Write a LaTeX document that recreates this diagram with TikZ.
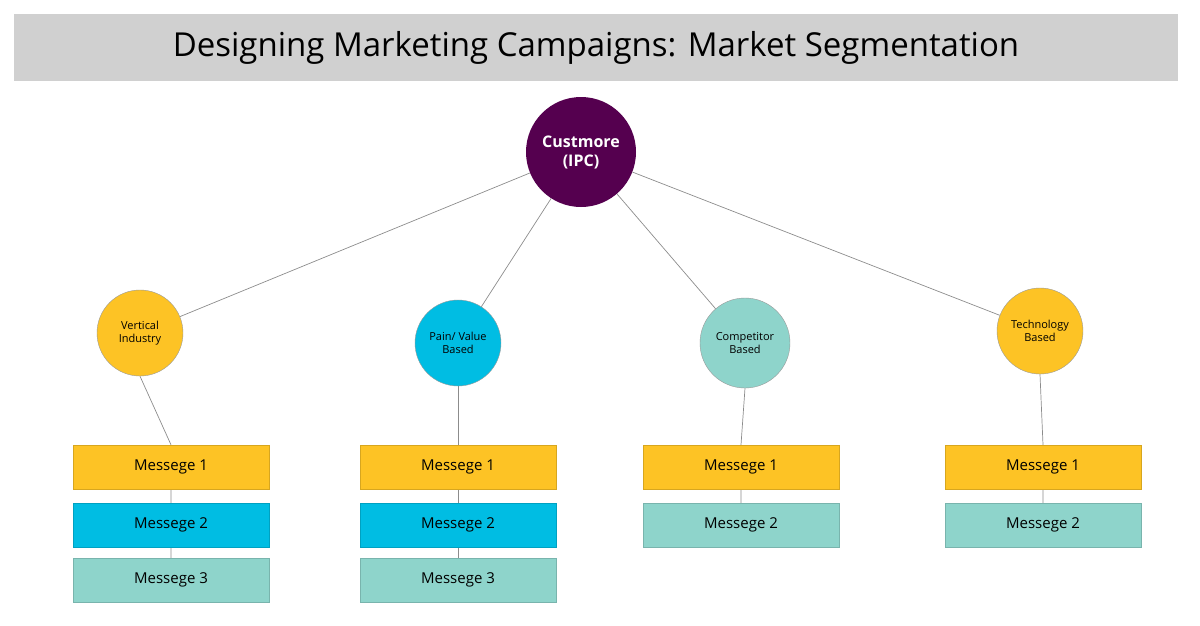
\documentclass[tikz,border=0pt]{standalone}
\usepackage{fontspec}
\setmainfont{Open Sans}
\usetikzlibrary{backgrounds}
\definecolor{ylw}{HTML}{FDC325}
\definecolor{blu}{HTML}{00BDE3}
\definecolor{tea}{HTML}{8ED4CB}
\definecolor{pur}{HTML}{55004F}
\definecolor{ttl}{HTML}{D0D0D0}
\tikzset{
 seg/.style={circle,draw=gray!80,minimum size=86pt,inner sep=0pt,align=center,font=\fontsize{11}{13}\selectfont},
 msg/.style={draw=#1!85!black,fill=#1,minimum width=196pt,minimum height=44pt,inner sep=0pt,font=\fontsize{15}{18}\selectfont},
 link/.style={draw=gray!90,line width=0.7pt}
}
\begin{document}
\begin{tikzpicture}[x=1pt,y=-1pt]
\useasboundingbox (0,0) rectangle (1200,625);
\node[fill=ttl,minimum width=1164pt,minimum height=67pt,inner sep=0pt,font=\fontsize{33}{38}\selectfont] (title) at (596,47.5) {Designing Marketing Campaigns: Market Segmentation};
\node[circle,fill=pur,minimum size=110pt,inner sep=0pt,align=center,text=white,font=\bfseries\fontsize{16}{19}\selectfont] (root) at (581,152) {Custmore\\(IPC)};
\node[seg,fill=ylw] (c1) at (140,333) {Vertical\\Industry};
\node[seg,fill=blu] (c2) at (458,343) {Pain/ Value\\Based};
\node[seg,fill=tea,minimum size=90pt] (c3) at (745,343) {Competitor\\Based};
\node[seg,fill=ylw] (c4) at (1040,331) {Technology\\Based};
\node[msg=ylw] (a1) at (171,467) {Messege 1};
\node[msg=blu] (a2) at (171,525) {Messege 2};
\node[msg=tea] (a3) at (171,580) {Messege 3};
\node[msg=ylw] (b1) at (458,467) {Messege 1};
\node[msg=blu] (b2) at (458,525) {Messege 2};
\node[msg=tea] (b3) at (458,580) {Messege 3};
\node[msg=ylw] (d1) at (741,467) {Messege 1};
\node[msg=tea] (d2) at (741,525) {Messege 2};
\node[msg=ylw] (e1) at (1043,467) {Messege 1};
\node[msg=tea] (e2) at (1043,525) {Messege 2};
\begin{scope}[on background layer]
\foreach \c in {c1,c2,c3,c4} \draw[link] (root) -- (\c);
\draw[link] (c1.south) -- (a1.north) (a1) -- (a2) (a2) -- (a3);
\draw[link] (c2.south) -- (b1.north) (b1) -- (b2) (b2) -- (b3);
\draw[link] (c3.south) -- (d1.north) (d1) -- (d2);
\draw[link] (c4.south) -- (e1.north) (e1) -- (e2);
\end{scope}
\end{tikzpicture}
\end{document}
